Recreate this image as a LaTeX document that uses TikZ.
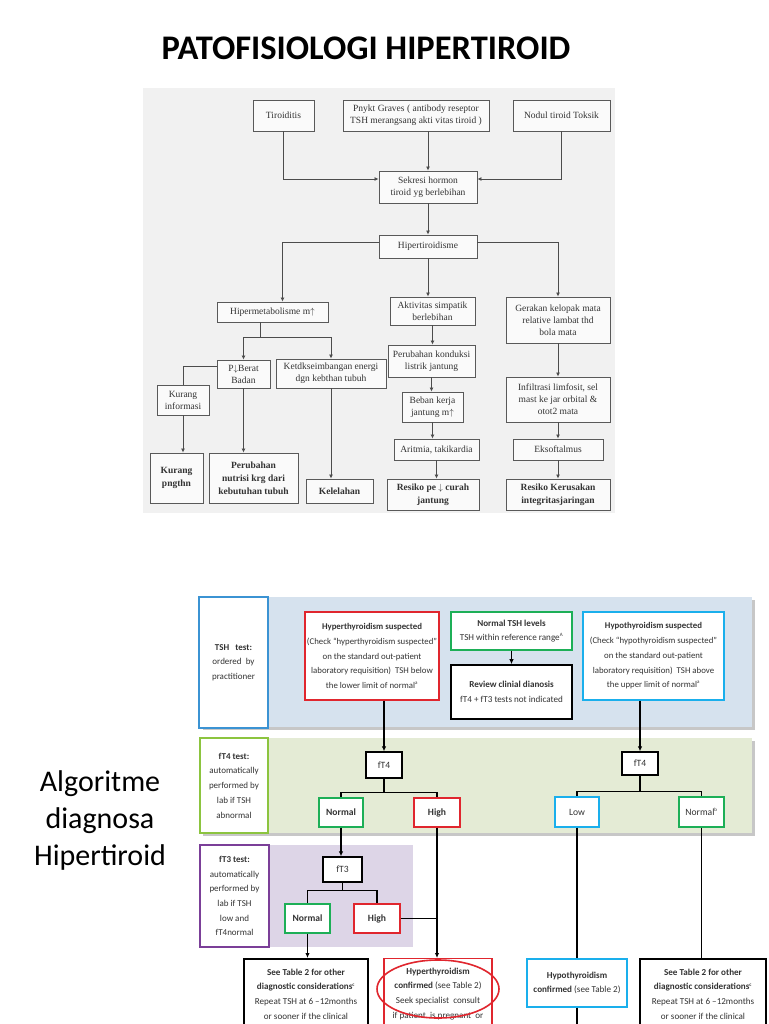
\documentclass[tikz,border=0pt]{standalone}
\usepackage{fontspec}
\setmainfont{Carlito}
\newfontfamily\chartserif{Liberation Serif}
\usetikzlibrary{arrows.meta,positioning}
\definecolor{paper}{HTML}{F1F1F1}
\definecolor{inkgray}{HTML}{333333}
\definecolor{bandblue}{HTML}{D6E2EE}
\definecolor{bandgreen}{HTML}{E4EBD5}
\definecolor{bandpurple}{HTML}{DDD5E7}
\definecolor{rulered}{HTML}{E0262E}
\definecolor{rulegreen}{HTML}{1DAF57}
\definecolor{ruleblue}{HTML}{1AAFEC}
\definecolor{rulesteel}{HTML}{3B93D3}
\definecolor{rulelime}{HTML}{8CC43F}
\definecolor{rulepurple}{HTML}{7B3F98}

\begin{document}
\begin{tikzpicture}[x=1pt, y=-1pt,
  wh/.style 2 args={minimum width=#1pt, minimum height=#2pt},
  oldbox/.style={draw=black!65, line width=0.9pt, fill=black!2, align=center, inner sep=1pt,
    text=inkgray, font=\chartserif\fontsize{9.5}{12}\selectfont},
  oldline/.style={draw=black!70, line width=0.9pt},
  oldarr/.style={oldline, -{Latex[length=4pt,width=4pt]}},
  newbox/.style={draw=#1, line width=1.3pt, fill=white, align=center, inner sep=2pt,
    text=inkgray, font=\fontsize{9.1}{14.7}\selectfont},
  suspbox/.style={newbox=#1, font=\fontsize{8.8}{14.7}\selectfont},
  tagbox/.style={newbox=#1, font=\fontsize{9.6}{12}\selectfont},
  labbox/.style={newbox=#1, line width=1.5pt, font=\fontsize{9}{14.7}\selectfont},
  newline/.style={draw=black, line width=1.2pt},
  newarr/.style={newline, -{Latex[length=5pt,width=4.5pt]}}]
  \useasboundingbox (0,0) rectangle (768,1024);
  \fill[white] (0,0) rectangle (768,1024);

  % titles
  \node[font=\fontsize{34.5}{40}\selectfont\bfseries] (title) at (366,48) {PATOFISIOLOGI HIPERTIROID};
  \node[font=\fontsize{30}{37}\selectfont, align=center] (algo) at (100,820) {Algoritme\\ diagnosa\\ Hipertiroid};

  % ---------------- patofisiologi chart ----------------
  \fill[paper] (143,88) rectangle (615,513);
  \node[oldbox, wh={61}{31}] (tiro) at (283.5,115.5) {Tiroiditis};
  \node[oldbox, wh={146}{31}] (graves) at (416,115.5) {Pnykt Graves ( antibody reseptor\\ TSH merangsang akti vitas tiroid )};
  \node[oldbox, wh={97}{31}] (nodul) at (561.5,115.5) {Nodul tiroid Toksik};
  \node[oldbox, wh={98}{32}] (sekresi) at (428,187) {Sekresi hormon\\ tiroid yg berlebihan};
  \node[oldbox, wh={98}{23}] (hiper) at (428,246.5) {Hipertiroidisme};
  \node[oldbox, wh={111}{20}] (hipermet) at (272.5,312) {Hipermetabolisme m$\uparrow$};
  \node[oldbox, wh={85}{28}] (aktiv) at (432.5,311) {Aktivitas simpatik\\ berlebihan};
  \node[oldbox, wh={104}{46}] (gerak) at (558,320) {Gerakan kelopak mata\\ relative lambat thd\\ bola mata};
  \node[oldbox, wh={53}{28}] (pberat) at (243.5,374) {P$\downarrow$Berat\\ Badan};
  \node[oldbox, wh={110}{29}] (ketdk) at (331,373.5) {Ketdkseimbangan energi\\ dgn kebthan tubuh};
  \node[oldbox, wh={52}{30}] (kurinf) at (183,400) {Kurang\\ informasi};
  \node[oldbox, wh={87}{32}] (konduksi) at (431.5,361) {Perubahan konduksi\\ listrik jantung};
  \node[oldbox, wh={61}{30}] (beban) at (432.5,407) {Beban kerja\\ jantung m$\uparrow$};
  \node[oldbox, wh={85}{21}] (aritmia) at (436.5,449.5) {Aritmia, takikardia};
  \node[oldbox, wh={104}{45}] (infil) at (558,399.5) {Infiltrasi limfosit, sel\\ mast ke jar orbital \&\\ otot2 mata};
  \node[oldbox, wh={90}{21}] (eksof) at (558,449.5) {Eksoftalmus};
  % outcomes
  \node[oldbox, wh={53}{50}, font=\chartserif\bfseries\fontsize{9.5}{13}\selectfont] (kurpng) at (176.5,478) {Kurang\\ pngthn};
  \node[oldbox, wh={89}{50}, font=\chartserif\bfseries\fontsize{9.5}{13}\selectfont] (pernut) at (253.5,478) {Perubahan\\ nutrisi krg dari\\ kebutuhan tubuh};
  \node[oldbox, wh={67}{24}, font=\chartserif\bfseries\fontsize{9.5}{13}\selectfont] (lelah) at (339.5,491) {Kelelahan};
  \node[oldbox, wh={92}{31}, font=\chartserif\bfseries\fontsize{9.5}{13}\selectfont] (rescurah) at (433,494.5) {Resiko pe $\downarrow$ curah\\ jantung};
  \node[oldbox, wh={104}{31}, font=\chartserif\bfseries\fontsize{9.5}{13}\selectfont] (resker) at (558,494.5) {Resiko Kerusakan\\ integritasjaringan};

  \draw[oldarr] (tiro.south) |- ([yshift=8pt]sekresi.west);
  \draw[oldarr] (graves.south -| sekresi.north) -- (sekresi.north);
  \draw[oldarr] (nodul.south) |- ([yshift=8pt]sekresi.east);
  \draw[oldarr] (sekresi) -- (hiper);
  \draw[oldarr] ([yshift=4pt]hiper.west) -| ([xshift=10pt]hipermet.north);
  \draw[oldarr] (hiper.south) -- (hiper.south |- aktiv.north);
  \draw[oldarr] ([yshift=4pt]hiper.east) -| (gerak.north);
  \coordinate (hmsplit) at (260,337);
  \draw[oldline] (hmsplit |- hipermet.south) -- (hmsplit);
  \draw[oldarr] (hmsplit) -| (pberat.north);
  \draw[oldarr] (hmsplit) -| (ketdk.north);
  \draw[oldline] ([yshift=8pt]pberat.west) -| (kurinf.north);
  \draw[oldarr] (kurinf.south) -- (kurinf.south |- kurpng.north);
  \draw[oldarr] (pberat.south) -- (pberat.south |- pernut.north);
  \draw[oldarr] (ketdk.south) -- (ketdk.south |- lelah.north);
  \foreach \a/\b in {aktiv/konduksi, konduksi/beban, beban/aritmia, aritmia/rescurah}
    \draw[oldarr] (\a.south) -- (\a.south |- \b.north);
  \foreach \a/\b in {gerak/infil, infil/eksof, eksof/resker}
    \draw[oldarr] (\a) -- (\b);

  % ---------------- algoritme chart ----------------
  % bands
  \fill[black!22] (203,600) rectangle (755,730);
  \fill[bandblue] (200,597) rectangle (752,727);
  \fill[black!22] (203,741) rectangle (755,836);
  \fill[bandgreen] (200,738) rectangle (752,833);
  \fill[bandpurple] (200,845) rectangle (413,947);
  \node[labbox=rulesteel, wh={69}{131}] (tshlab) at (233.5,662.5) {\textbf{TSH\ \ \ test:}\\ ordered\ \ by\\ practitioner};
  \node[labbox=rulelime, wh={68}{95}] (ft4lab) at (234,785.5) {\textbf{fT4 test:}\\ automatically\\ performed by\\ lab if TSH\\ abnormal};
  \node[labbox=rulepurple, wh={69}{102}] (ft3lab) at (234.5,896) {\textbf{fT3 test:}\\ automatically\\ performed by\\ lab if TSH\\ low and\\ fT4normal};

  % TSH row
  \node[suspbox=rulered, wh={134}{88}] (hypersus) at (372,656) {\textbf{Hyperthyroidism suspected}\\ (Check “hyperthyroidism suspected”\\ on the standard out-patient\\ laboratory requisition)\ \ TSH below\\ the lower limit\ of normal\textsuperscript{\tiny a}};
  \node[newbox=rulegreen, wh={121}{38}] (normtsh) at (511.5,631) {\textbf{Normal TSH levels}\\ TSH within\ reference range\textsuperscript{\tiny A}};
  \node[newbox=black, line width=1.6pt, wh={121}{54}] (review) at (511.5,692) {\textbf{Review clinial dianosis}\\ fT4 + fT3 tests not indicated};
  \node[suspbox=ruleblue, wh={141}{88}] (hyposus) at (653.5,656) {\textbf{Hypothyroidism suspected}\\ (Check “hypothyroidism\ suspected”\\ on the standard out-patient\\ laboratory requisition)\ \ TSH above\\ the upper limit\ of normal\textsuperscript{\tiny a}};

  % fT4 row
  \node[tagbox=black, wh={36}{26}] (ft4a) at (384,765) {fT4};
  \node[tagbox=rulegreen, wh={44}{29}] (nrm4) at (341,812.5) {\textbf{Normal}};
  \node[tagbox=rulered, wh={46}{29}] (high4) at (437,812.5) {\textbf{High}};
  \node[tagbox=black, wh={36}{23}] (ft4b) at (640,763.5) {fT4};
  \node[tagbox=ruleblue, wh={44}{30}] (low4) at (577,812) {Low};
  \node[tagbox=rulegreen, wh={45}{30}] (nrm4b) at (701.5,812) {Normal\textsuperscript{\tiny b}};

  % fT3 row
  \node[tagbox=black, wh={39}{25}] (ft3) at (342.5,869.5) {fT3};
  \node[tagbox=rulegreen, wh={45}{29}] (nrm3) at (307.5,918.5) {\textbf{Normal}};
  \node[tagbox=rulered, wh={46}{29}] (high3) at (377,918.5) {\textbf{High}};

  % results
  \node[newbox=black, line width=1.6pt, anchor=north, minimum width=124pt, inner ysep=10pt] (table2a) at (306,958) {\textbf{See Table 2 for other}\\ \textbf{diagnostic considerations\textsuperscript{\tiny c}}\\ Repeat TSH at 6 --12months\\ or sooner if the clinical};
  \node[newbox=rulered, anchor=north, minimum width=108pt, inner ysep=9pt] (hypconf) at (438,958) {\textbf{Hyperthyroidism}\\ \textbf{confirmed} (see Table 2)\\ Seek specialist\ \ consult\\ if patient\ \ is pregnant\ \ or};
  \node[newbox=ruleblue, wh={100}{48}] (hypoconf) at (577,983) {\textbf{Hypothyroidism}\\ \textbf{confirmed} (see Table 2)};
  \node[newbox=black, line width=1.6pt, anchor=north, minimum width=126pt, inner ysep=10pt] (table2b) at (703,958) {\textbf{See Table 2 for other}\\ \textbf{diagnostic considerations\textsuperscript{\tiny c}}\\ Repeat TSH at 6 --12months\\ or sooner if the clinical};
  \draw[rulered, line width=1.6pt] (438,989) ellipse [x radius=61pt, y radius=29pt];

  \draw[newarr] (ft4a.north |- hypersus.south) -- (ft4a.north);
  \draw[newarr] (normtsh) -- (review);
  \draw[newarr] (ft4b.north |- hyposus.south) -- (ft4b.north);
  \draw[newline] (ft4a.south) -- ++(0,14) -| (nrm4.north);
  \draw[newline] (ft4a.south) -- ++(0,14) -| (high4.north);
  \draw[newarr] (nrm4.south) -- (nrm4.south |- ft3.north);
  \draw[newarr] (high4.south) -- (high4.south |- hypconf.north);
  \draw[newline] (ft3.south) -- ++(0,8) -| (nrm3.north);
  \draw[newline] (ft3.south) -- ++(0,8) -| (high3.north);
  \draw[newline] (high3.east) -- (high3.east -| high4.south);
  \draw[newarr] (nrm3.south) -- (nrm3.south |- table2a.north);
  \draw[newline] (ft4b.south) -- ++(0,16) -| (low4.north);
  \draw[newline] (ft4b.south) -- ++(0,16) -| (nrm4b.north);
  \draw[newline] (low4) -- (hypoconf);
  \coordinate (lowend) at (577,1030);
  \draw[newline] (hypoconf.south) -- (lowend);
  \draw[newline] (nrm4b.south) -- (nrm4b.south |- table2b.north);
\end{tikzpicture}
\end{document}
